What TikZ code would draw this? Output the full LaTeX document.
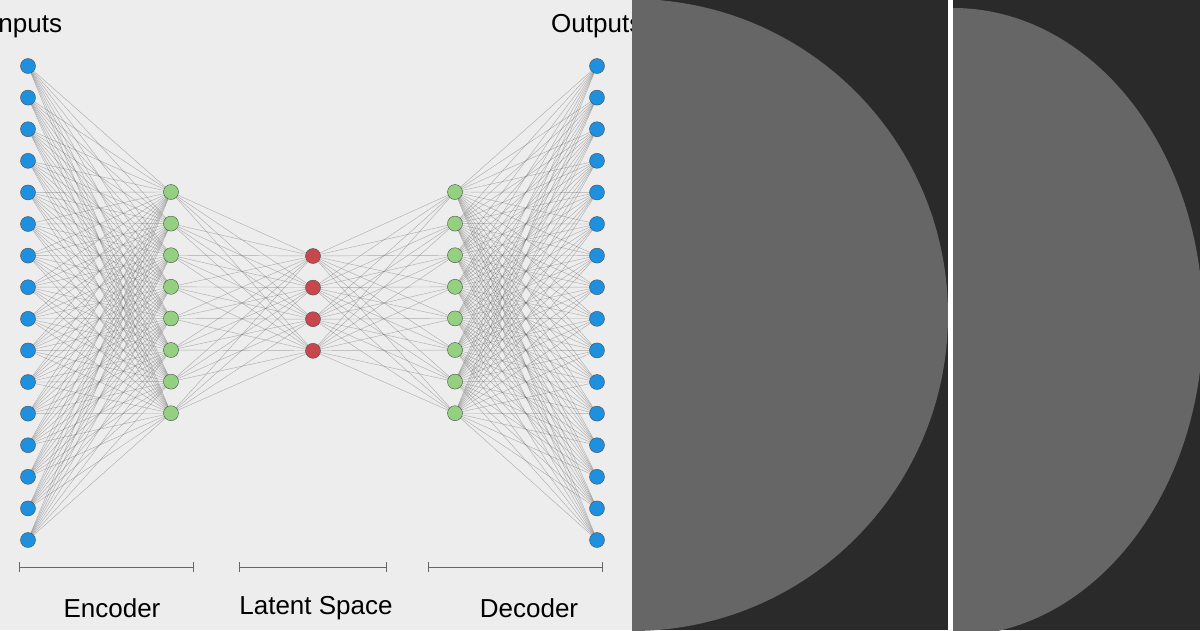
\documentclass[tikz,border=0pt]{standalone}
\usepackage{fontspec}
\setmainfont{Liberation Sans}
\definecolor{bgl}{HTML}{EDEDED}
\definecolor{bgd}{HTML}{2A2A2A}
\definecolor{disc}{HTML}{666666}
\definecolor{inblue}{HTML}{1E90E0}
\definecolor{engreen}{HTML}{93D07F}
\definecolor{latred}{HTML}{C8474C}
\tikzset{
  neuron/.style={circle,draw=black!70,line width=0.4pt,minimum size=15pt,inner sep=0pt},
  link/.style={draw=black!60,line width=0.4pt,opacity=0.5},
  brace/.style={draw=black!60,line width=0.8pt},
  lab/.style={font=\fontsize{26}{30}\selectfont,text=black,inner sep=0pt}
}
\begin{document}
\begin{tikzpicture}[x=1pt,y=-1pt]
\useasboundingbox (0,0) rectangle (1200,630);
\begin{scope}
\clip (0,0) rectangle (632,630);
\fill[bgl] (0,0) rectangle (632,630);
\foreach \i in {1,...,16}{
  \coordinate (i\i) at (28,{66+(\i-1)*31.6});
  \coordinate (o\i) at (597,{66+(\i-1)*31.6});
}
\foreach \i in {1,...,8}{
  \coordinate (e\i) at (171,{192+(\i-1)*31.6});
  \coordinate (d\i) at (455,{192+(\i-1)*31.6});
}
\foreach \i in {1,...,4}{
  \coordinate (l\i) at (313,{256+(\i-1)*31.6});
}
\foreach \a in {1,...,16}{\foreach \b in {1,...,8}{
  \draw[link] (i\a) -- (e\b);
  \draw[link] (d\b) -- (o\a);
}}
\foreach \a in {1,...,8}{\foreach \b in {1,...,4}{
  \draw[link] (e\a) -- (l\b);
  \draw[link] (l\b) -- (d\a);
}}
\foreach \i in {1,...,16}{
  \node[neuron,fill=inblue] (ni\i) at (i\i) {};
  \node[neuron,fill=inblue] (no\i) at (o\i) {};
}
\foreach \i in {1,...,8}{
  \node[neuron,fill=engreen] (ne\i) at (e\i) {};
  \node[neuron,fill=engreen] (nd\i) at (d\i) {};
}
\foreach \i in {1,...,4}{
  \node[neuron,fill=latred] (nl\i) at (l\i) {};
}
\node[lab,anchor=west] (tin) at (-9,26) {Inputs};
\node[lab,anchor=west] (tout) at (551,26) {Outputs};
\coordinate (b1a) at (19,567); \coordinate (b1b) at (193,567);
\coordinate (b2a) at (239,567); \coordinate (b2b) at (386,567);
\coordinate (b3a) at (428,567); \coordinate (b3b) at (602,567);
\foreach \p/\q in {b1a/b1b,b2a/b2b,b3a/b3b}{
  \draw[brace] (\p) -- (\q);
  \draw[brace] ([yshift=-5]\p) -- ([yshift=5]\p);
  \draw[brace] ([yshift=-5]\q) -- ([yshift=5]\q);
}
\node[lab] (tenc) at (112,608) {Encoder};
\node[lab] (tlat) at (316,608) {Latent Space};
\node[lab] (tdec) at (529,608) {Decoder};
\end{scope}
\fill[bgd] (632,0) rectangle (1200,630);
\begin{scope}
\clip (632,0) rectangle (948,630);
\fill[disc] (632,315) circle (316);
\end{scope}
\fill[white] (948,0) rectangle (953,630);
\begin{scope}
\clip (953,0) rectangle (1200,630);
\fill[disc] (953,322) ellipse (250 and 314);
\end{scope}
\end{tikzpicture}
\end{document}
